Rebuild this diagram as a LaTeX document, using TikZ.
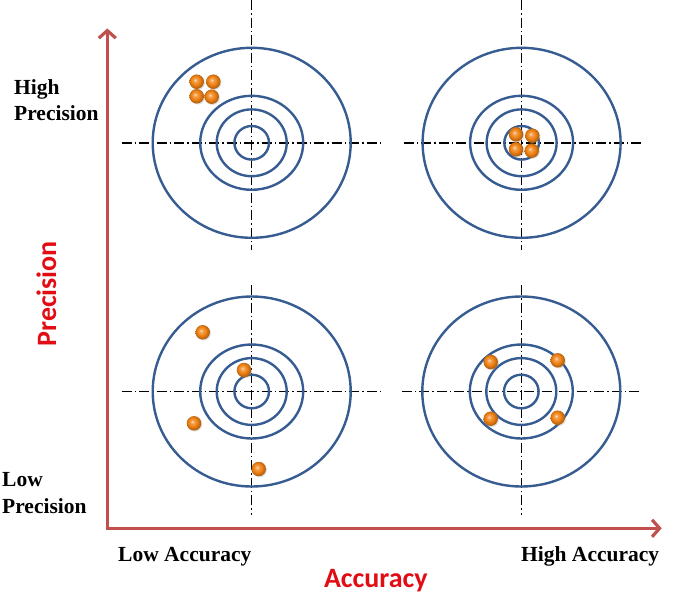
\documentclass[tikz,border=0pt]{standalone}
\usepackage{fontspec}
\setmainfont{Liberation Serif}
\newfontfamily\calfont{Carlito}
\usetikzlibrary{arrows.meta,shadows}
\definecolor{ringblue}{RGB}{54,92,145}
\definecolor{axisred}{RGB}{192,80,77}
\definecolor{labelred}{RGB}{226,12,20}
\definecolor{dotorange}{RGB}{240,130,20}
\pgfdeclareradialshading{orangeball}{\pgfpoint{-6bp}{6bp}}{%
  color(0bp)=(dotorange!25!white);
  color(6bp)=(dotorange!75!white);
  color(15bp)=(dotorange);
  color(25bp)=(dotorange!75!black);
  color(50bp)=(dotorange!75!black)}
\begin{document}
\begin{tikzpicture}[x=1pt,y=-1pt,
  ring/.style={draw=ringblue,line width=2.4pt},
  cross/.style={draw=black,line width=1.4pt,dash pattern=on 10pt off 3pt on 1.5pt off 3pt},
  dot/.style={circle,minimum size=14.5pt,inner sep=0pt,shading=orangeball,
    drop shadow={opacity=0.25,shadow xshift=1pt,shadow yshift=-1pt}},
  lab/.style={font=\fontsize{21.5}{25}\selectfont\bfseries,inner sep=0pt,anchor=base west},
  axlab/.style={font=\calfont\fontsize{28}{32}\selectfont\bfseries,text=labelred,inner sep=0pt,anchor=base},
  axisline/.style={draw=axisred,line width=3.2pt},
  tip/.tip={Straight Barb[length=7.5pt,width=17pt]}]
\useasboundingbox (0,0) rectangle (685,595);

% target centres
\coordinate (TL) at (251.7,142.8);
\coordinate (TR) at (521.6,142.8);
\coordinate (BL) at (251.7,391.5);
\coordinate (BR) at (521.3,391.5);

% crosshairs
\draw[cross] (TL) ++(-130,0) -- ++(259,0);
\draw[cross] (TL) ++(0,-142.8) -- ++(0,250);
\draw[cross] (TR) ++(-118,0) -- ++(237,0);
\draw[cross] (TR) ++(0,-142.8) -- ++(0,250);
\draw[cross] (BL) ++(-130,0) -- ++(259,0);
\draw[cross] (BL) ++(0,-106.5) -- ++(0,230);
\draw[cross] (BR) ++(-119.5,0) -- ++(239,0);
\draw[cross] (BR) ++(0,-106.5) -- ++(0,230);

% rings
\foreach \c in {TL,TR,BL,BR}{
  \draw[ring] (\c) ellipse [x radius=99pt, y radius=95pt];
  \draw[ring] (\c) ellipse [x radius=51.5pt, y radius=47pt];
  \draw[ring] (\c) ellipse [x radius=35pt, y radius=33.4pt];
  \draw[ring] (\c) ellipse [x radius=17.3pt, y radius=16.8pt];
}

% dots: top-left
\node[dot] (a1) at (196.7,81.7) {};
\node[dot] (a2) at (213.3,81.7) {};
\node[dot] (a3) at (196.7,96.3) {};
\node[dot] (a4) at (211.7,96.7) {};
% top-right
\node[dot] (b1) at (516,134.3) {};
\node[dot] (b2) at (532.3,135.7) {};
\node[dot] (b3) at (516,149.3) {};
\node[dot] (b4) at (531.7,150.7) {};
% bottom-left
\node[dot] (c1) at (202.7,332.3) {};
\node[dot] (c2) at (244,370) {};
\node[dot] (c3) at (194,423.3) {};
\node[dot] (c4) at (258.7,469) {};
% bottom-right
\node[dot] (e1) at (490.7,362) {};
\node[dot] (e2) at (557.7,360.3) {};
\node[dot] (e3) at (490.7,418.7) {};
\node[dot] (e4) at (557.7,417.7) {};

% axes
\coordinate (O) at (107.3,528.3);
\coordinate (Ytip) at (107.3,28.5);
\coordinate (Xtip) at (661.7,528.3);
\draw[axisline,tip-tip] (Ytip) -- (O) -- (Xtip);

% labels
\node[lab] (hp1) at (14,94) {High};
\node[lab] (hp2) at (14,120) {Precision};
\node[lab] (lp1) at (2,486.7) {Low};
\node[lab] (lp2) at (2,513) {Precision};
\node[lab] (la) at (118,561.7) {Low Accuracy};
\node[lab] (ha) at (521,561.7) {High Accuracy};
\node[axlab] (acc) at (375.8,587.7) {Accuracy};
\node[axlab,rotate=90] (prec) at (56,293.7) {Precision};
\end{tikzpicture}
\end{document}
